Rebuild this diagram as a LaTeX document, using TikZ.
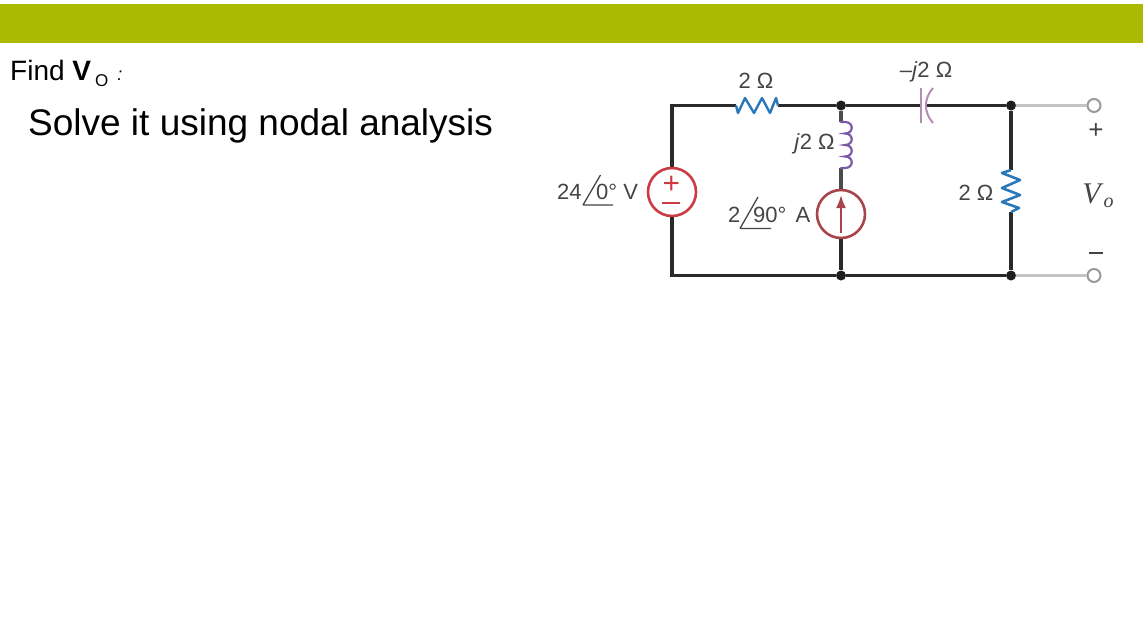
\documentclass[tikz,border=0pt]{standalone}
\usepackage{fontspec}
\usetikzlibrary{arrows.meta}
\setmainfont{Liberation Sans}
\newfontfamily\serifit{Liberation Serif}
\definecolor{band}{HTML}{A9BA00}
\definecolor{wire}{HTML}{2A2A2A}
\definecolor{termw}{HTML}{C4C4C4}
\definecolor{resb}{HTML}{2A78B8}
\definecolor{indp}{HTML}{7A5AA8}
\definecolor{capp}{HTML}{B48CB4}
\definecolor{vred}{HTML}{CC3A44}
\definecolor{ired}{HTML}{A8454A}
\definecolor{lab}{HTML}{444444}
\tikzset{
  wireline/.style={draw=wire,line width=3.4pt},
  termline/.style={draw=termw,line width=2.6pt},
  jdot/.style={circle,fill=black!88,inner sep=0pt,minimum size=10pt},
  termdot/.style={circle,draw=black!40,fill=white,line width=2pt,inner sep=0pt,minimum size=13pt},
  lbl/.style={text=lab,inner sep=0pt,font=\fontsize{22}{24}\selectfont},
  src/.style={circle,fill=white,inner sep=0pt,minimum size=48pt,line width=2.6pt},
  title/.style={anchor=base west,inner sep=0pt,text=black},
}
\begin{document}
\begin{tikzpicture}[x=1pt,y=-1pt]
\useasboundingbox (0,0) rectangle (1143,641);
\fill[band] (0,4) rectangle (1143,43);
% text
\node[title,font=\fontsize{28}{30}\selectfont] (find) at (10,80.5) {Find \textbf{V}\hspace{4pt}\raisebox{-6pt}{\fontsize{17}{17}\selectfont O}\hspace{9pt}{\fontsize{18}{18}\selectfont\textit{:}}};
\node[title,font=\fontsize{37}{40}\selectfont] (solve) at (28,135) {Solve it using nodal analysis};
% junctions and terminals
\coordinate (tl) at (672,105.5);
\coordinate (bl) at (672,275.5);
\node[jdot] (n1) at (841,105.5) {};
\node[jdot] (n2) at (1011,105.5) {};
\node[jdot] (n3) at (841,275.5) {};
\node[jdot] (n4) at (1011,275.5) {};
\coordinate (r1a) at (736,105.5);
\coordinate (r1b) at (778,105.5);
\coordinate (ca) at (920,105.5);
\coordinate (cb) at (927,105.5);
\coordinate (la) at (841,122);
\coordinate (lb) at (841,168);
\coordinate (r2a) at (1011,170);
\coordinate (r2b) at (1011,212);
\node[src,draw=vred] (vs) at (672,192) {};
\node[src,draw=ired] (is) at (841,214) {};
% wires
\draw[wireline,line join=miter] (vs.north) -- (tl) -- (r1a);
\draw[wireline] (r1b) -- (n1);
\draw[wireline] (n1) -- (ca);
\draw[wireline] (cb) -- (n2);
\draw[wireline,line join=miter] (vs.south) -- (bl) -- (n3);
\draw[wireline] (n3) -- (n4);
\draw[wireline,draw=black!70] (n1) -- (la);
\draw[wireline,draw=black!70] (lb) -- (is.north);
\draw[wireline] (is.south) -- (n3);
\draw[wireline] (n2) -- (r2a);
\draw[wireline] (r2b) -- (n4);
\node[termdot] (t1) at (1094,105.5) {};
\node[termdot] (t2) at (1094,275.5) {};
\draw[termline] (n2) -- (t1);
\draw[termline] (n4) -- (t2);
% resistors
\draw[resb,line width=2.4pt,line join=round]
 (r1a) -- (738,113) -- (745,98) -- (754,113) -- (762,98) -- (770,113) -- (776,98) -- (r1b);
\draw[resb,line width=2.6pt,line join=round]
 (r2a) -- (1002,173) -- (1020,180) -- (1002,188) -- (1020,195) -- (1002,202) -- (1019,208) -- (r2b);
% inductor
\draw[indp,line width=2.2pt,line cap=round]
 (la) -- (845,122)
 .. controls (854,122) and (854,133.5) .. (845,133.5)
 .. controls (854,133.5) and (854,145) .. (845,145)
 .. controls (854,145) and (854,156.5) .. (845,156.5)
 .. controls (854,156.5) and (854,168) .. (845,168)
 -- (lb);
% capacitor
\draw[capp,line width=2pt] (920.5,88) -- (920.5,123);
\draw[capp,line width=2pt] (933,88) .. controls (923.5,99) and (923.5,112) .. (933,123);
% source symbols
\node[text=vred,inner sep=0pt,font=\fontsize{30}{30}\selectfont] (plus) at (671.5,185) {+};
\draw[vred,line width=2.2pt] (662,203) -- (680,203);
\draw[ired,line width=2.2pt,-{Latex[length=13pt,width=10pt]}] (841,233) -- (841,195);
% labels
\node[lbl] (l1) at (756,81) {2 Ω};
\node[lbl] (l2) at (926,71.5) {\textit{–j}2 Ω};
\node[lbl] (l3) at (814.5,143.5) {\textit{j}2 Ω};
\node[lbl] (l4) at (976,193) {2 Ω};
\node[lbl,anchor=west] (l5a) at (557,192) {24};
\node[lbl,anchor=west] (l5b) at (596,192) {0° V};
\draw[lab,line width=1.3pt] (583,205) -- (613,205) (583,205) -- (600.5,175);
\node[lbl,anchor=west] (l6a) at (728,215) {2};
\node[lbl,anchor=west] (l6b) at (753,215) {90°\hspace{3pt} A};
\draw[lab,line width=1.3pt] (740,228.5) -- (771,228.5) (740,228.5) -- (758,197);
\node[text=lab,inner sep=0pt,font=\serifit\fontsize{30}{32}\selectfont] (vo) at (1098,196) {\textit{V}\raisebox{-4pt}{\fontsize{20}{20}\selectfont\textit{o}}};
\node[text=lab,inner sep=0pt,font=\fontsize{26}{26}\selectfont] (pl) at (1096,131) {+};
\draw[lab,line width=1.8pt] (1089,253) -- (1103,253);
\end{tikzpicture}
\end{document}
